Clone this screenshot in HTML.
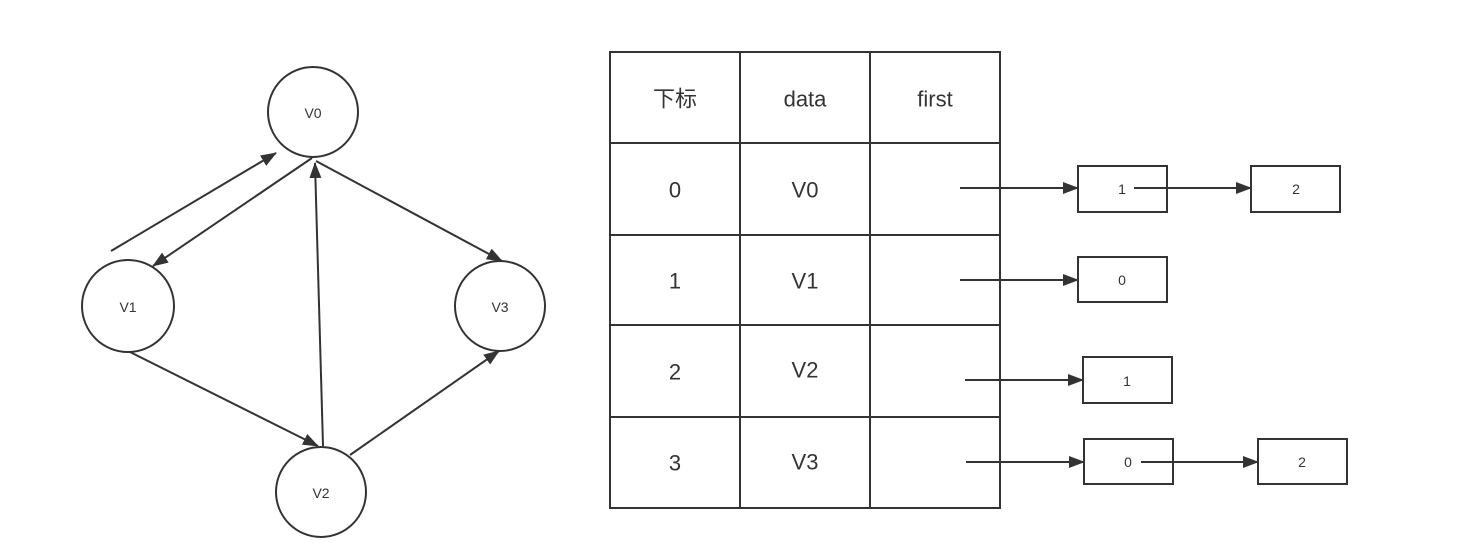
<!DOCTYPE html>
<html><head><meta charset="utf-8"><style>
html,body{margin:0;padding:0;background:#fff;}
svg{display:block;}
text{font-family:"Liberation Sans","Noto Sans CJK SC",sans-serif;fill:#333;text-anchor:middle;dominant-baseline:central;}
</style></head><body>
<svg width="1459" height="555" viewBox="0 0 1459 555" xmlns="http://www.w3.org/2000/svg">
<defs>
<marker id="a" markerWidth="10" markerHeight="8" refX="9" refY="4" orient="auto" markerUnits="userSpaceOnUse" viewBox="0 0 10 8">
<path d="M0,0 L10,4 L0,8 Z" fill="#333"/></marker>
<marker id="b" markerWidth="16" markerHeight="12" refX="15" refY="6" orient="auto" markerUnits="userSpaceOnUse" viewBox="0 0 16 12">
<path d="M0,0 L16,6 L0,12 Z" fill="#333"/></marker>
</defs>
<g stroke="#333" stroke-width="2" fill="none">
<circle cx="313" cy="112" r="45"/>
<circle cx="128" cy="306" r="46"/>
<circle cx="500" cy="306" r="45"/>
<circle cx="321" cy="492" r="45"/>
<line x1="111" y1="251" x2="276" y2="153" marker-end="url(#b)"/>
<line x1="312" y1="158" x2="153" y2="266" marker-end="url(#b)"/>
<line x1="323" y1="446" x2="315" y2="163" marker-end="url(#b)"/>
<line x1="130" y1="352" x2="318" y2="446" marker-end="url(#b)"/>
<line x1="316" y1="161" x2="502" y2="261" marker-end="url(#b)"/>
<line x1="350" y1="455" x2="499" y2="351" marker-end="url(#b)"/>
<rect x="610" y="52" width="390" height="456"/>
<line x1="740" y1="52" x2="740" y2="508"/>
<line x1="870" y1="52" x2="870" y2="508"/>
<line x1="610" y1="143" x2="1000" y2="143"/>
<line x1="610" y1="235" x2="1000" y2="235"/>
<line x1="610" y1="325" x2="1000" y2="325"/>
<line x1="610" y1="417" x2="1000" y2="417"/>
<rect x="1078" y="166" width="89" height="46"/>
<rect x="1251" y="166" width="89" height="46"/>
<rect x="1078" y="257" width="89" height="45"/>
<rect x="1083" y="357" width="89" height="46"/>
<rect x="1084" y="439" width="89" height="45"/>
<rect x="1258" y="439" width="89" height="45"/>
<line x1="960" y1="188" x2="1078" y2="188" marker-end="url(#b)"/>
<line x1="1134" y1="188" x2="1251" y2="188" marker-end="url(#b)"/>
<line x1="960" y1="280" x2="1078" y2="280" marker-end="url(#b)"/>
<line x1="965" y1="380" x2="1083" y2="380" marker-end="url(#b)"/>
<line x1="966" y1="462" x2="1084" y2="462" marker-end="url(#b)"/>
<line x1="1141" y1="462" x2="1258" y2="462" marker-end="url(#b)"/>
</g>
<g font-size="14">
<text x="313" y="113">V0</text>
<text x="128" y="307">V1</text>
<text x="500" y="307">V3</text>
<text x="321" y="493">V2</text>
</g>
<g font-size="22">
<text x="675" y="99">下标</text>
<text x="805" y="99">data</text>
<text x="935" y="99">first</text>
<text x="675" y="190">0</text>
<text x="805" y="190">V0</text>
<text x="675" y="281">1</text>
<text x="805" y="281">V1</text>
<text x="675" y="372">2</text>
<text x="805" y="370">V2</text>
<text x="675" y="463">3</text>
<text x="805" y="462">V3</text>
</g>
<g font-size="14">
<text x="1122" y="189">1</text>
<text x="1296" y="189">2</text>
<text x="1122" y="280">0</text>
<text x="1127" y="381">1</text>
<text x="1128" y="462">0</text>
<text x="1302" y="462">2</text>
</g>
</svg>
</body></html>
